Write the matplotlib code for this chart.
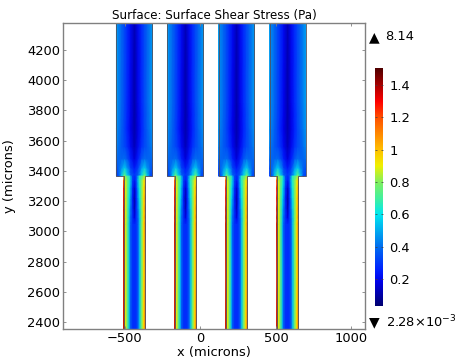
import numpy as np
import matplotlib
matplotlib.use("Agg")
import matplotlib.pyplot as plt
from matplotlib.colors import LinearSegmentedColormap

title = "Surface: Surface Shear Stress (Pa)"
x_ticks = [-500, 0, 500, 1000]
y_ticks = [2400, 2600, 2800, 3000, 3200, 3400, 3600, 3800, 4000, 4200]
bar_ticks = [0.2, 0.4, 0.6, 0.8, 1.0, 1.2, 1.4]
bar_labels = ["0.2", "0.4", "0.6", "0.8", "1", "1.2", "1.4"]
max_label = "8.14"
min_label = r"2.28$\times$10$^{-3}$"

channel_centers = [-437, -99, 239, 577]
channel_top = 4379
step_y = 3366
channel_bottom = 2354

# stations across each channel, microns from its centre
upper_offsets = [-119, -105, -85, -66, -48, -24, 0, 24, 48, 66, 85, 105, 119]
lower_offsets = [-72, -60, -46, -33, -24, -12, 0, 12, 24, 33, 46, 60, 72]

# shear stress read across the upper part, left wall to right wall
upper_y = [3366, 3385, 3420, 3480, 3560, 3680, 3850, 4379]
upper_field = [
    [0.32, 0.34, 0.55, 0.74, 0.55, 0.36, 0.30, 0.36, 0.55, 0.74, 0.55, 0.34, 0.32],
    [0.32, 0.36, 0.52, 0.70, 0.55, 0.36, 0.28, 0.36, 0.55, 0.70, 0.52, 0.36, 0.32],
    [0.34, 0.38, 0.46, 0.56, 0.48, 0.32, 0.24, 0.32, 0.48, 0.56, 0.46, 0.38, 0.34],
    [0.40, 0.38, 0.38, 0.40, 0.36, 0.25, 0.17, 0.25, 0.36, 0.40, 0.38, 0.38, 0.40],
    [0.44, 0.40, 0.36, 0.33, 0.29, 0.20, 0.13, 0.20, 0.29, 0.33, 0.36, 0.40, 0.44],
    [0.46, 0.42, 0.37, 0.32, 0.26, 0.18, 0.11, 0.18, 0.26, 0.32, 0.37, 0.42, 0.46],
    [0.48, 0.43, 0.38, 0.33, 0.27, 0.19, 0.11, 0.19, 0.27, 0.33, 0.38, 0.43, 0.48],
    [0.48, 0.43, 0.38, 0.33, 0.28, 0.20, 0.12, 0.20, 0.28, 0.33, 0.38, 0.43, 0.48],
]

# same for the narrow lower part
lower_y = [2354, 3050, 3090, 3150, 3220, 3290, 3340, 3366]
lower_field = [
    [1.35, 0.92, 0.74, 0.52, 0.36, 0.29, 0.28, 0.29, 0.36, 0.52, 0.74, 0.92, 1.15],
    [1.35, 0.92, 0.74, 0.52, 0.36, 0.29, 0.28, 0.29, 0.36, 0.52, 0.74, 0.92, 1.15],
    [1.35, 0.92, 0.74, 0.52, 0.37, 0.28, 0.18, 0.28, 0.37, 0.52, 0.74, 0.92, 1.15],
    [1.35, 0.92, 0.74, 0.54, 0.40, 0.27, 0.12, 0.27, 0.40, 0.54, 0.74, 0.92, 1.15],
    [1.32, 0.92, 0.75, 0.58, 0.44, 0.25, 0.11, 0.25, 0.44, 0.58, 0.75, 0.92, 1.12],
    [1.30, 0.90, 0.76, 0.62, 0.48, 0.28, 0.15, 0.28, 0.48, 0.62, 0.76, 0.90, 1.10],
    [1.20, 0.88, 0.76, 0.66, 0.52, 0.32, 0.24, 0.32, 0.52, 0.66, 0.76, 0.88, 1.02],
    [0.85, 0.76, 0.70, 0.66, 0.48, 0.32, 0.28, 0.32, 0.48, 0.66, 0.70, 0.76, 0.85],
]

bar_min = 0.033
bar_max = 1.505

rainbow = LinearSegmentedColormap.from_list("comsol_rainbow", [
    (0.00, "#000070"), (0.10, "#0000e8"), (0.15, "#0020ff"), (0.25, "#0070f0"),
    (0.385, "#00e8f0"), (0.45, "#40f0a0"), (0.52, "#80f060"), (0.59, "#f0f000"),
    (0.657, "#ffc000"), (0.793, "#ff5000"), (0.86, "#ff0000"), (0.93, "#a80000"),
    (1.00, "#500000"),
])

W, H = 474, 363
fig = plt.figure(figsize=(W / 100, H / 100), dpi=100)
ax = fig.add_axes([63 / W, 1 - 329 / H, 302 / W, 306 / H])

frame_col = "#808080"
wall_col = "#505060"
for c in channel_centers:
    xu = c + np.array(upper_offsets)
    xl = c + np.array(lower_offsets)
    ax.pcolormesh(xu, upper_y, np.array(upper_field), cmap=rainbow, vmin=bar_min,
                  vmax=bar_max, shading="gouraud", rasterized=True)
    ax.pcolormesh(xl, lower_y, np.array(lower_field), cmap=rainbow, vmin=bar_min,
                  vmax=bar_max, shading="gouraud", rasterized=True)
    ax.plot([xl[0], xl[0], xu[0], xu[0]],
            [channel_bottom, step_y, step_y, channel_top], color=wall_col, lw=0.6)
    ax.plot([xl[-1], xl[-1], xu[-1], xu[-1]],
            [channel_bottom, step_y, step_y, channel_top], color=wall_col, lw=0.6)

ax.set_xlim(-910, 1090)
ax.set_ylim(channel_bottom, channel_top)
ax.set_xticks(x_ticks)
ax.set_yticks(y_ticks)
ax.tick_params(direction="in", length=2.5, width=0.6, color=frame_col, top=True,
               right=True, labelsize=9.4, pad=2)
for s in ax.spines.values():
    s.set_color(frame_col)
    s.set_linewidth(1.0)
ax.set_title(title, fontsize=8.6, pad=3)
ax.set_xlabel("x (microns)", fontsize=9.4, labelpad=1)
ax.set_ylabel("y (microns)", fontsize=9.4, labelpad=8)

cax = fig.add_axes([375 / W, 1 - 306 / H, 7.5 / W, 238 / H])
values = np.linspace(bar_min, bar_max, 256)[:, None]
cax.imshow(values, origin="lower", aspect="auto", cmap=rainbow,
           extent=[0, 1, bar_min, bar_max], vmin=bar_min, vmax=bar_max)
cax.set_xticks([])
cax.set_yticks(bar_ticks)
cax.set_yticklabels(bar_labels)
cax.yaxis.tick_right()
cax.tick_params(direction="in", length=1.5, width=0.5, color="#404040", left=True,
                right=True, labelsize=9.4, pad=5)
for s in cax.spines.values():
    s.set_visible(False)

fig.text(369 / W, 1 - 37 / H, "\u25b2", fontsize=10, color="black", va="center")
fig.text(385 / W, 1 - 37 / H, max_label, fontsize=9.4, va="center")
fig.text(369 / W, 1 - 322 / H, "\u25bc", fontsize=10, color="black", va="center")
fig.text(386 / W, 1 - 322 / H, min_label, fontsize=9.4, va="center")

fig.savefig("out.png", dpi=100)
